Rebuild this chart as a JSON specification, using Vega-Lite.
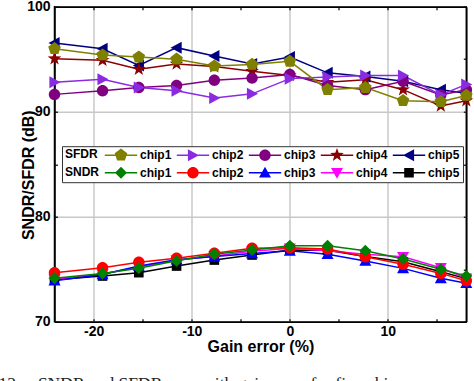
{
  "$schema": "https://vega.github.io/schema/vega-lite/v6.json",
  "width": 411.8,
  "height": 315,
  "autosize": {"type": "none"},
  "padding": {"left": 54.5, "top": 6.7, "right": 7.7, "bottom": 59.3},
  "background": "white",
  "config": {
    "font": "Liberation Sans",
    "view": {"stroke": "black", "strokeWidth": 1.5},
    "axis": {
      "labelFont": "Liberation Sans", "labelFontSize": 14, "labelFontWeight": "bold", "labelColor": "black",
      "titleFont": "Liberation Sans", "titleFontSize": 16, "titleFontWeight": "bold", "titleColor": "black",
      "domainColor": "black", "domainWidth": 1.5, "tickColor": "black", "tickWidth": 1.2,
      "gridColor": "#c8c8c8", "gridWidth": 1.5, "labelOverlap": false, "labelFlush": false
    },
    "legend": {
      "orient": "none", "legendX": 7.5, "legendY": 139.5,
      "columns": 5, "direction": "horizontal",
      "titleOrient": "left", "titleAnchor": "start", "titleBaseline": "top", "titleLineHeight": 17.6,
      "titleFont": "Liberation Sans", "titleFontSize": 12, "titleFontWeight": "bold", "titleColor": "black", "titlePadding": 15,
      "labelFont": "Liberation Sans", "labelFontSize": 12, "labelFontWeight": "bold", "labelColor": "black", "labelOffset": 13,
      "symbolSize": 144, "columnPadding": 4, "rowPadding": 5.6, "symbolOpacity": 1,
      "padding": 3, "strokeColor": "#333", "fillColor": "white", "cornerRadius": 0
    }
  },
  "title": {
    "text": "12.\u2003SNDR and SFDR vary with gain error for five chips.",
    "orient": "bottom", "anchor": "start", "frame": "group",
    "font": "Liberation Serif", "fontSize": 17.5, "fontWeight": "normal", "color": "#222",
    "baseline": "top", "dx": -56, "offset": 20
  },
  "data": {"values": [
    {"s":"SNDR chip5","x":-24,"y":74.0},{"s":"SNDR chip5","x":-19.1,"y":74.35},{"s":"SNDR chip5","x":-15.4,"y":74.67},{"s":"SNDR chip5","x":-11.55,"y":75.3},{"s":"SNDR chip5","x":-7.7,"y":75.87},{"s":"SNDR chip5","x":-3.85,"y":76.35},{"s":"SNDR chip5","x":0,"y":76.83},{"s":"SNDR chip5","x":3.85,"y":76.8},{"s":"SNDR chip5","x":7.7,"y":76.2},{"s":"SNDR chip5","x":11.55,"y":75.71},{"s":"SNDR chip5","x":15.4,"y":74.76},{"s":"SNDR chip5","x":18,"y":74.1},
    {"s":"SNDR chip4","x":-24,"y":74.05},{"s":"SNDR chip4","x":-19.1,"y":74.55},{"s":"SNDR chip4","x":-15.4,"y":75.2},{"s":"SNDR chip4","x":-11.55,"y":75.85},{"s":"SNDR chip4","x":-7.7,"y":76.25},{"s":"SNDR chip4","x":-3.85,"y":76.7},{"s":"SNDR chip4","x":0,"y":77.0},{"s":"SNDR chip4","x":3.85,"y":76.75},{"s":"SNDR chip4","x":7.7,"y":76.42},{"s":"SNDR chip4","x":11.55,"y":76.19},{"s":"SNDR chip4","x":15.4,"y":75.14},{"s":"SNDR chip4","x":18,"y":74.13},
    {"s":"SNDR chip3","x":-24,"y":73.9},{"s":"SNDR chip3","x":-19.1,"y":74.5},{"s":"SNDR chip3","x":-15.4,"y":75.3},{"s":"SNDR chip3","x":-11.55,"y":75.9},{"s":"SNDR chip3","x":-7.7,"y":76.2},{"s":"SNDR chip3","x":-3.85,"y":76.5},{"s":"SNDR chip3","x":0,"y":76.75},{"s":"SNDR chip3","x":3.85,"y":76.42},{"s":"SNDR chip3","x":7.7,"y":75.78},{"s":"SNDR chip3","x":11.55,"y":75.08},{"s":"SNDR chip3","x":15.4,"y":74.13},{"s":"SNDR chip3","x":18,"y":73.66},
    {"s":"SNDR chip2","x":-24,"y":74.67},{"s":"SNDR chip2","x":-19.1,"y":75.14},{"s":"SNDR chip2","x":-15.4,"y":75.66},{"s":"SNDR chip2","x":-11.55,"y":76.04},{"s":"SNDR chip2","x":-7.7,"y":76.52},{"s":"SNDR chip2","x":-3.85,"y":76.99},{"s":"SNDR chip2","x":0,"y":77.05},{"s":"SNDR chip2","x":3.85,"y":76.92},{"s":"SNDR chip2","x":7.7,"y":76.19},{"s":"SNDR chip2","x":11.55,"y":75.47},{"s":"SNDR chip2","x":15.4,"y":74.6},{"s":"SNDR chip2","x":18,"y":73.9},
    {"s":"SNDR chip1","x":-24,"y":74.13},{"s":"SNDR chip1","x":-19.1,"y":74.6},{"s":"SNDR chip1","x":-15.4,"y":75.1},{"s":"SNDR chip1","x":-11.55,"y":75.8},{"s":"SNDR chip1","x":-7.7,"y":76.42},{"s":"SNDR chip1","x":-3.85,"y":76.83},{"s":"SNDR chip1","x":0,"y":77.24},{"s":"SNDR chip1","x":3.85,"y":77.24},{"s":"SNDR chip1","x":7.7,"y":76.76},{"s":"SNDR chip1","x":11.55,"y":75.97},{"s":"SNDR chip1","x":15.4,"y":74.99},{"s":"SNDR chip1","x":18,"y":74.35},
    {"s":"SFDR chip5","x":-24,"y":96.55},{"s":"SFDR chip5","x":-19.1,"y":96.0},{"s":"SFDR chip5","x":-15.4,"y":94.4},{"s":"SFDR chip5","x":-11.55,"y":96.1},{"s":"SFDR chip5","x":-7.7,"y":95.3},{"s":"SFDR chip5","x":-3.85,"y":94.55},{"s":"SFDR chip5","x":0,"y":95.2},{"s":"SFDR chip5","x":3.85,"y":93.7},{"s":"SFDR chip5","x":7.7,"y":93.35},{"s":"SFDR chip5","x":11.55,"y":92.9},{"s":"SFDR chip5","x":15.4,"y":92.1},{"s":"SFDR chip5","x":18,"y":91.75},
    {"s":"SFDR chip4","x":-24,"y":95.05},{"s":"SFDR chip4","x":-19.1,"y":94.9},{"s":"SFDR chip4","x":-15.4,"y":94.05},{"s":"SFDR chip4","x":-11.55,"y":94.55},{"s":"SFDR chip4","x":-7.7,"y":94.3},{"s":"SFDR chip4","x":-3.85,"y":93.85},{"s":"SFDR chip4","x":0,"y":93.45},{"s":"SFDR chip4","x":3.85,"y":92.8},{"s":"SFDR chip4","x":7.7,"y":93.05},{"s":"SFDR chip4","x":11.55,"y":92.1},{"s":"SFDR chip4","x":15.4,"y":90.55},{"s":"SFDR chip4","x":18,"y":91.05},
    {"s":"SFDR chip3","x":-24,"y":91.65},{"s":"SFDR chip3","x":-19.1,"y":92.0},{"s":"SFDR chip3","x":-15.4,"y":92.3},{"s":"SFDR chip3","x":-11.55,"y":92.5},{"s":"SFDR chip3","x":-7.7,"y":93.0},{"s":"SFDR chip3","x":-3.85,"y":93.2},{"s":"SFDR chip3","x":0,"y":93.55},{"s":"SFDR chip3","x":3.85,"y":92.5},{"s":"SFDR chip3","x":7.7,"y":92.1},{"s":"SFDR chip3","x":11.55,"y":92.9},{"s":"SFDR chip3","x":15.4,"y":91.6},{"s":"SFDR chip3","x":18,"y":92.1},
    {"s":"SFDR chip2","x":-24,"y":92.8},{"s":"SFDR chip2","x":-19.1,"y":93.1},{"s":"SFDR chip2","x":-15.4,"y":92.3},{"s":"SFDR chip2","x":-11.55,"y":92.0},{"s":"SFDR chip2","x":-7.7,"y":91.3},{"s":"SFDR chip2","x":-3.85,"y":91.7},{"s":"SFDR chip2","x":0,"y":93.15},{"s":"SFDR chip2","x":3.85,"y":93.3},{"s":"SFDR chip2","x":7.7,"y":93.45},{"s":"SFDR chip2","x":11.55,"y":93.45},{"s":"SFDR chip2","x":15.4,"y":91.6},{"s":"SFDR chip2","x":18,"y":92.6},
    {"s":"SFDR chip1","x":-24,"y":96.0},{"s":"SFDR chip1","x":-19.1,"y":95.4},{"s":"SFDR chip1","x":-15.4,"y":95.2},{"s":"SFDR chip1","x":-11.55,"y":95.0},{"s":"SFDR chip1","x":-7.7,"y":94.35},{"s":"SFDR chip1","x":-3.85,"y":94.5},{"s":"SFDR chip1","x":0,"y":94.8},{"s":"SFDR chip1","x":3.85,"y":92.1},{"s":"SFDR chip1","x":7.7,"y":92.3},{"s":"SFDR chip1","x":11.55,"y":91.05},{"s":"SFDR chip1","x":15.4,"y":90.95},{"s":"SFDR chip1","x":18,"y":91.55}
  ]},
  "layer": [
    {
      "mark": {"type": "line", "strokeWidth": 1.5, "clip": false},
      "encoding": {
        "x": {"field": "x", "type": "quantitative", "scale": {"domain": [-24, 18], "nice": false, "zero": false},
          "axis": {"orient": "bottom", "values": [-20, -15, -10, -5, 0, 5, 10, 15],
            "labelExpr": "datum.value % 10 == 0 ? (datum.value < 0 ? '-' + abs(datum.value) : '' + datum.value) : ''",
            "title": "Gain error (%)", "grid": true,
            "gridOpacity": {"condition": {"test": "datum.value % 10 != 0", "value": 0}, "value": 1},
            "tickSize": -3, "labelPadding": 6, "titlePadding": 0}},
        "y": {"field": "y", "type": "quantitative", "scale": {"domain": [70, 100], "nice": false, "zero": false},
          "axis": {"orient": "left", "values": [70, 75, 80, 85, 90, 95, 100],
            "labelExpr": "datum.value % 10 == 0 ? '' + datum.value : ''",
            "title": "SNDR/SFDR (dB)", "grid": true,
            "gridOpacity": {"condition": {"test": "datum.value % 10 != 0", "value": 0}, "value": 1},
            "tickSize": -3, "labelPadding": 7.5, "titlePadding": -10, "titleY": 168}},
        "color": {"field": "s", "type": "nominal",
          "scale": {"domain": ["SFDR chip1","SFDR chip2","SFDR chip3","SFDR chip4","SFDR chip5","SNDR chip1","SNDR chip2","SNDR chip3","SNDR chip4","SNDR chip5"],
            "range": ["#808000","#8a2be2","#800080","#8b0000","#000080","#008000","#ff0000","#0000ff","#ff00ff","#000000"]},
          "legend": {
            "title": ["SFDR", "SNDR"],
            "labelExpr": "slice(datum.label, 5)",
            "encode": {"symbols": {"update": {
              "shape": {"signal": "'M-2.7,-0.13H2.7V0.13H-2.7Z' + scale('shape', datum.value)"},
              "strokeWidth": {"value": 0}
            }}}
          }}
      }
    },
    {
      "mark": {"type": "point", "filled": true, "opacity": 1, "size": 144, "strokeWidth": 0, "clip": false},
      "encoding": {
        "x": {"field": "x", "type": "quantitative",
          "axis": {"orient": "top", "values": [-20, -15, -10, -5, 0, 5, 10, 15], "labels": false, "title": null, "grid": false, "tickSize": -3}},
        "y": {"field": "y", "type": "quantitative",
          "axis": {"orient": "right", "values": [70, 75, 80, 85, 90, 95, 100], "labels": false, "title": null, "grid": false, "tickSize": -3}},
        "color": {"field": "s", "type": "nominal",
          "legend": {
            "title": ["SFDR", "SNDR"],
            "labelExpr": "slice(datum.label, 5)",
            "encode": {"symbols": {"update": {
              "shape": {"signal": "'M-2.7,-0.13H2.7V0.13H-2.7Z' + scale('shape', datum.value)"},
              "strokeWidth": {"value": 0}
            }}}
          }},
        "shape": {"field": "s", "type": "nominal", "legend": null,
          "scale": {"domain": ["SNDR chip5","SNDR chip4","SNDR chip3","SNDR chip2","SNDR chip1","SFDR chip5","SFDR chip4","SFDR chip3","SFDR chip2","SFDR chip1"],
            "range": [
              "M-0.8,-0.8H0.8V0.8H-0.8Z",
              "M-1,-0.8L1,-0.8L0,1Z",
              "M0,-1L1,0.8L-1,0.8Z",
              "M0.95,0A0.95,0.95,0,1,1,-0.95,0A0.95,0.95,0,1,1,0.95,0Z",
              "M0,-1L1,0L0,1L-1,0Z",
              "M0.85,-1L0.85,1L-1,0Z",
              "M0,-1.2L0.282,-0.389L1.141,-0.371L0.456,0.149L0.706,0.971L0,0.48L-0.706,0.971L-0.456,0.149L-1.141,-0.371L-0.282,-0.389Z",
              "M0.95,0A0.95,0.95,0,1,1,-0.95,0A0.95,0.95,0,1,1,0.95,0Z",
              "M-0.85,-1L1,0L-0.85,1Z",
              "M0,-1.1L1.046,-0.34L0.647,0.89L-0.647,0.89L-1.046,-0.34Z"
            ]}}
      }
    }
  ],
  "resolve": {"axis": {"x": "independent", "y": "independent"}}
}
